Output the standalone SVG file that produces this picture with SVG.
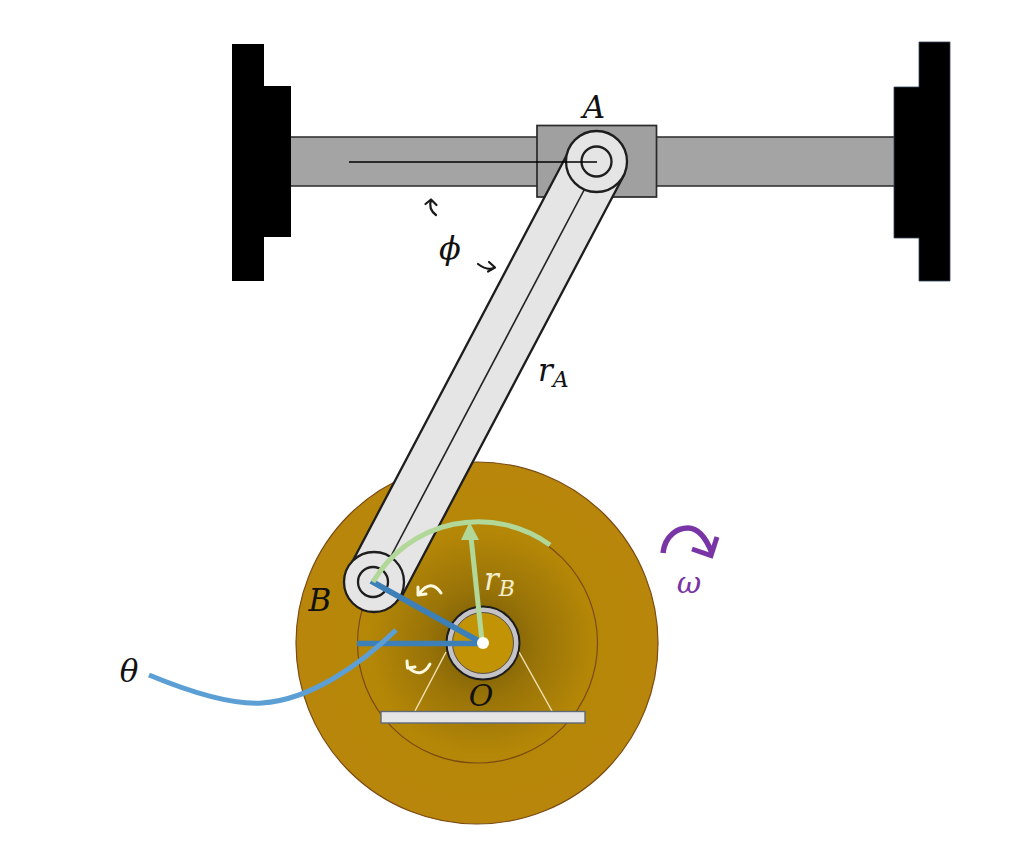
<svg xmlns="http://www.w3.org/2000/svg" width="1024" height="852" viewBox="0 0 1024 852">
<style>
.t{font-family:"DejaVu Serif","Liberation Serif",serif;font-style:italic}
.s{fill:none;stroke:#1a1a1a;stroke-width:2.200;stroke-linecap:round;stroke-linejoin:round}
.w{fill:none;stroke:#fff9e0;stroke-width:3;stroke-linecap:round;stroke-linejoin:round}
.p{fill:#e6e5e6;stroke:#1e1e1e;stroke-width:2.300}
</style>
<defs>
<radialGradient id="disc" gradientUnits="userSpaceOnUse" cx="482" cy="643" r="181">
<stop offset="0" stop-color="#6f5505"/><stop offset=".3" stop-color="#987308"/><stop offset=".62" stop-color="#b58707"/><stop offset="1" stop-color="#b8860b"/>
</radialGradient>
</defs>
<rect width="1024" height="852" fill="#fff"/>
<g id="rail"><rect x="285" y="137" width="615" height="49" fill="#a4a4a4" stroke="#2a2a2a" stroke-width="1.500"/></g>
<g id="left-support"><path d="M232 44H264V86H291V237H264V281H232Z" fill="#000"/></g>
<g id="right-support"><path d="M919 42H950V281H919V238H894V87H919Z" fill="#000" stroke="#35415c" stroke-width=".8"/></g>
<g id="slider-A"><rect x="537" y="125.500" width="119.500" height="71.500" fill="#a0a0a0" stroke="#2a2a2a" stroke-width="1.700"/>
<text class="t" x="594" y="118" font-size="31" text-anchor="middle" fill="#111">A</text></g>
<g id="disc"><circle cx="477" cy="643" r="181" fill="url(#disc)" stroke="#7b4a14" stroke-width="1.200"/>
<circle cx="477.500" cy="643" r="120" fill="none" stroke="#7b4a14" stroke-width="1.200"/></g>
<g id="support-O">
<path d="M446 652L415 711M519 652L552 711" fill="none" stroke="#f0dfae" stroke-width="1.500"/>
<rect x="381" y="711.500" width="204" height="11.500" fill="#e6e5e6" stroke="#5d6a77" stroke-width="1.400"/>
<circle cx="483" cy="643" r="33.500" fill="#c39306" stroke="#c4c4c8" stroke-width="5.500"/>
<circle cx="483" cy="643" r="36.500" fill="none" stroke="#1d1d1d" stroke-width="2"/>
<circle cx="483" cy="643" r="30.500" fill="none" stroke="#555" stroke-width="1"/>
</g>
<g id="link">
<path class="p" d="M571 147L349 568L402 596L624 175Z"/>
<path d="M592 175L380 577" fill="none" stroke="#222" stroke-width="1.600"/>
<circle class="p" cx="374" cy="582" r="30"/><circle class="p" cx="373" cy="582" r="15"/>
<circle class="p" cx="596.500" cy="161.500" r="30.500"/><circle class="p" cx="596.500" cy="161.500" r="15"/>
</g>
<g id="connectors">
<path d="M349 162H597" fill="none" stroke="#000" stroke-width="1.400"/>
<path d="M436 215Q428 209 431 200M425.500 204L431 199.500L436.500 205" class="s"/>
<path d="M478 264Q487 271 494 268M489 262L495 267.500L488 271.500" class="s"/>
<path d="M357 643.500H483" fill="none" stroke="#3d7fb7" stroke-width="5.500"/>
<path d="M483 643.500L371 581" fill="none" stroke="#3d7fb7" stroke-width="6"/>
<path d="M149 675C190 692 230 705 262 703C310 700 360 665 396 630" fill="none" stroke="#5c9fd5" stroke-width="5"/>
<path d="M373 582A122 122 0 0 1 550 545" fill="none" stroke="#b1d898" stroke-width="5"/>
<path d="M482 641L471 537" fill="none" stroke="#b1d898" stroke-width="5"/>
<path d="M469.500 522L479 540H461Z" fill="#b1d898"/>
<circle cx="483" cy="643" r="6" fill="#fff"/>
<path d="M441 593Q431 578 419 594M418 587L418 595L426 594" class="w"/>
<path d="M430 664Q421 680 408 667M407 661L407.500 668L415 667" class="w"/>
<path d="M663 553C665 535 678 528 688 528C698 528 706 538 712 553" fill="none" stroke="#7935a5" stroke-width="5.500"/>
<path d="M692 549L711 555.500L717 537" fill="none" stroke="#7935a5" stroke-width="5"/>
</g>
<g id="labels" fill="#111">
<text class="t" x="450" y="259" font-size="32" text-anchor="middle">ϕ</text>
<text class="t" x="538" y="381" font-size="31">r<tspan font-size="22" dy="6">A</tspan></text>
<text class="t" x="484" y="590" font-size="31" fill="#f4eecb">r<tspan font-size="22" dy="6">B</tspan></text>
<text class="t" x="320" y="611" font-size="31" text-anchor="middle">B</text>
<text class="t" x="481" y="706" font-size="30" text-anchor="middle">O</text>
<text class="t" x="129" y="682" font-size="31" text-anchor="middle">θ</text>
<text class="t" x="689" y="593" font-size="30" text-anchor="middle" fill="#7935a5">ω</text>
</g>
</svg>
